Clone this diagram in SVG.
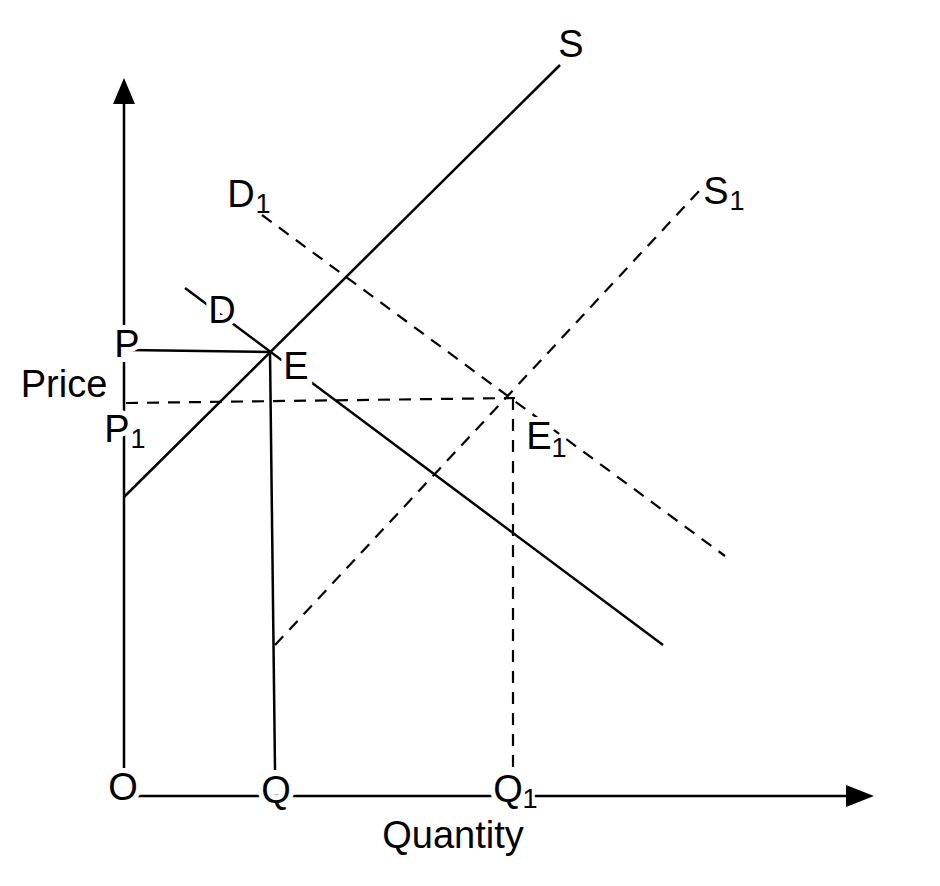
<svg xmlns="http://www.w3.org/2000/svg" width="940" height="886" viewBox="0 0 940 886">
<style>
.l{stroke:#000;stroke-width:2.5;fill:none}
.d{stroke:#000;stroke-width:2.2;fill:none;stroke-dasharray:12 9}
text{font-family:"Liberation Sans",Arial,sans-serif;font-size:38px;fill:#000;text-anchor:middle;dominant-baseline:central;paint-order:stroke;stroke:#fff;stroke-width:10px}
.s{font-size:27px}
</style>
<rect width="940" height="886" fill="#fff"/>
<g id="connectors">
<line class="l" x1="124" y1="768" x2="124" y2="100"/>
<path d="M124,78 L113,104 L135,104z" fill="#000"/>
<line class="l" x1="124" y1="796" x2="850" y2="796"/>
<path d="M874,796 L846,785 L846,807z" fill="#000"/>
<line class="l" x1="124" y1="497" x2="560" y2="65"/>
<line class="d" x1="275" y1="645" x2="700" y2="190"/>
<line class="l" x1="185" y1="288" x2="663" y2="645"/>
<line class="d" x1="262" y1="215" x2="725" y2="556"/>
<line class="l" x1="128" y1="350" x2="270" y2="352"/>
<line class="l" x1="270" y1="352" x2="275" y2="770"/>
<line class="d" x1="126" y1="403" x2="515" y2="398"/>
<line class="d" x1="513" y1="398" x2="513" y2="770"/>
</g>
<g id="labels">
<text x="123" y="787">O</text>
<text x="276" y="790">Q</text>
<text x="508" y="789">Q</text><text class="s" x="530" y="799" style="stroke-width:6px">1</text>
<text x="453" y="835">Quantity</text>
<text x="64" y="384">Price</text>
<text x="127" y="344">P</text>
<text x="117" y="429">P</text><text class="s" x="138" y="439" style="stroke:none">1</text>
<text x="222" y="310">D</text>
<text x="296" y="366">E</text>
<text x="539" y="436">E</text><text class="s" x="559" y="448" style="stroke:none">1</text>
<text x="571" y="44">S</text>
<text x="716" y="191">S</text><text class="s" x="737" y="201" style="stroke:none">1</text>
<text x="241" y="194">D</text><text class="s" x="263" y="204" style="stroke:none">1</text>
</g>
</svg>
